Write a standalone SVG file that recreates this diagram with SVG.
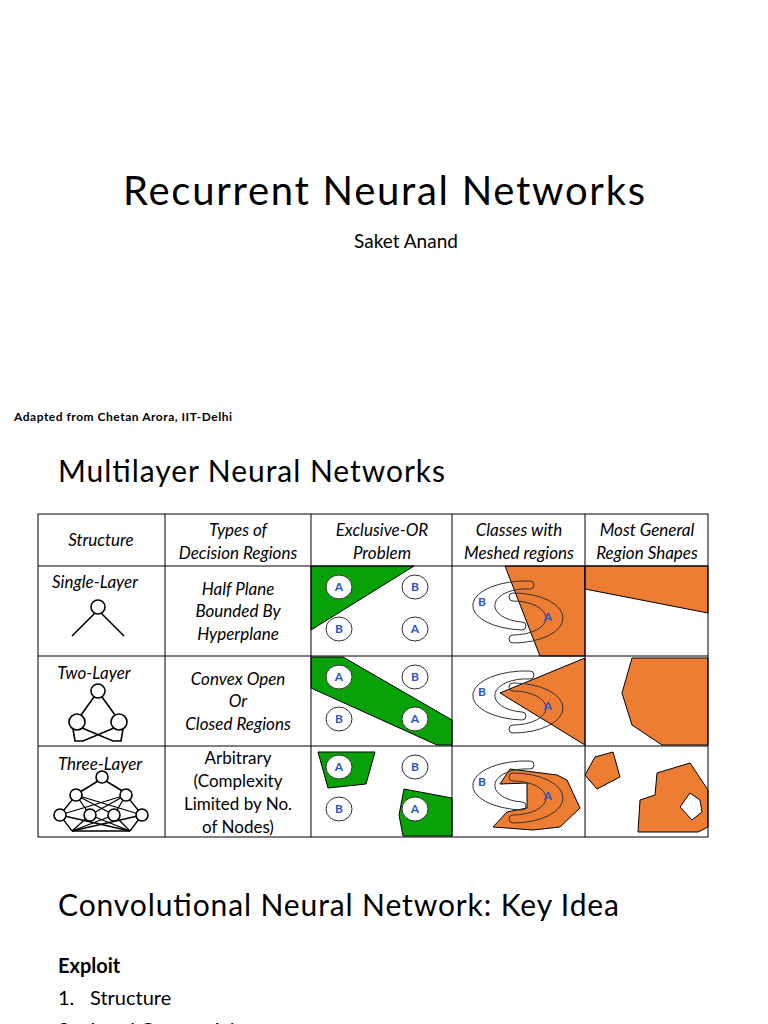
<svg xmlns="http://www.w3.org/2000/svg" width="768" height="1024" viewBox="0 0 768 1024">
<style>
text{font-family:Lato,"Open Sans","Liberation Sans",sans-serif;fill:#000}
.h{font-size:17px;font-style:italic;text-anchor:middle}
.c{font-size:17px;text-anchor:middle}
.l{font-size:12px;font-weight:bold;fill:#2a55c8;text-anchor:middle}
.g{fill:#08a108;stroke:#000;stroke-width:1}
.o{fill:#ec7d32;stroke:#000;stroke-width:1}
.ci{fill:#fff;stroke:#333;stroke-width:1}
.m{fill:none;stroke:#333;stroke-width:1}
.n{fill:none;stroke:#000;stroke-width:1.6}
.grid line{stroke:#000;stroke-width:1}
</style>
<rect width="768" height="1024" fill="#fff"/>
<text x="384" y="205" font-size="40" text-anchor="middle" textLength="522">Recurrent Neural Networks</text>
<text x="406" y="248" font-size="19" text-anchor="middle">Saket Anand</text>
<text x="14" y="421" font-size="12" font-weight="bold" textLength="218">Adapted from Chetan Arora, IIT-Delhi</text>
<text x="58" y="482" font-size="30" textLength="387">Multilayer Neural Networks</text>

<g id="cells">
<polygon class="g" points="311,566 414,566 311,630"/>
<polygon class="g" points="311,657 343,657 452,720 452,745 437,745 311,688"/>
<polygon class="g" points="318,752 375,752 366,784 328,788"/>
<polygon class="g" points="404,789 452,798 452,836 403,836 399,815"/>
<g id="xor-circles">
<ellipse class="ci" cx="339" cy="587" rx="13" ry="12"/><text class="l" x="339" y="591">A</text>
<ellipse class="ci" cx="415" cy="587" rx="13" ry="12"/><text class="l" x="415" y="591">B</text>
<ellipse class="ci" cx="339" cy="629" rx="13" ry="12"/><text class="l" x="339" y="633">B</text>
<ellipse class="ci" cx="415" cy="629" rx="13" ry="12"/><text class="l" x="415" y="633">A</text>
<ellipse class="ci" cx="339" cy="677" rx="13" ry="12"/><text class="l" x="339" y="681">A</text>
<ellipse class="ci" cx="415" cy="677" rx="13" ry="12"/><text class="l" x="415" y="681">B</text>
<ellipse class="ci" cx="339" cy="719" rx="13" ry="12"/><text class="l" x="339" y="723">B</text>
<ellipse class="ci" cx="415" cy="719" rx="13" ry="12"/><text class="l" x="415" y="723">A</text>
<ellipse class="ci" cx="339" cy="767" rx="13" ry="12"/><text class="l" x="339" y="771">A</text>
<ellipse class="ci" cx="415" cy="767" rx="13" ry="12"/><text class="l" x="415" y="771">B</text>
<ellipse class="ci" cx="339" cy="809" rx="13" ry="12"/><text class="l" x="339" y="813">B</text>
<ellipse class="ci" cx="415" cy="809" rx="13" ry="12"/><text class="l" x="415" y="813">A</text>
</g>
<polygon class="o" points="505,566 585,566 585,656 540,656"/>
<polygon class="o" points="500,693 585,658 585,745"/>
<polygon class="o" points="500,784 510,769 557,775 567,780 580,808 560,827 533,830 493,827 507,812 527,808 527,783"/>
<defs>
<path id="shB" class="m" d="M530,581 A52,24 0 1 0 522,630 A4,4 0 0 0 522,622 A30,16 0 1 1 530,589 A4,4 0 0 0 530,581 Z"/>
<path id="shA" class="m" d="M513,593 A50,25 0 1 1 513,643 A4,4 0 0 1 513,635 A33,17 0 1 0 513,601 A4,4 0 0 1 513,593 Z"/>
</defs>
<use href="#shB"/><use href="#shA"/>
<use href="#shB" y="90"/><use href="#shA" y="90"/>
<use href="#shB" y="180"/><use href="#shA" y="180"/>
<text class="l" x="482" y="606">B</text><text class="l" x="548" y="621">A</text>
<text class="l" x="482" y="696">B</text><text class="l" x="548" y="710">A</text>
<text class="l" x="482" y="786">B</text><text class="l" x="548" y="800">A</text>
<polygon class="o" points="585,566 708,566 708,613 585,589"/>
<polygon class="o" points="632,658 708,658 708,745 662,745 632,725 622,693"/>
<polygon class="o" points="585,775 595,757 613,752 620,777 597,789"/>
<polygon class="o" points="657,773 690,763 708,790 708,827 698,832 663,832 638,832 640,800 655,795"/>
<polygon fill="#fff" stroke="#000" points="680,807 690,793 700,800 702,812 692,820"/>
</g>

<g id="nets" class="n">
<circle cx="98" cy="607" r="7" fill="#fff"/>
<polyline points="72,636 95,613"/><polyline points="124,636 101,613"/>
<circle cx="98" cy="691" r="7" fill="#fff"/>
<line x1="94" y1="697" x2="81" y2="715"/><line x1="102" y1="697" x2="115" y2="715"/>
<circle cx="77" cy="722" r="8" fill="#fff"/><circle cx="119" cy="722" r="8" fill="#fff"/>
<polyline points="73,729 75,741 83,741 114,728"/><polyline points="123,729 121,741 113,741 82,728"/>
<circle cx="102" cy="777" r="6" fill="#fff"/>
<line x1="98" y1="781" x2="80" y2="792"/><line x1="106" y1="781" x2="124" y2="792"/>
<g stroke-width="1.3">
<line x1="76" y1="795" x2="60" y2="815"/><line x1="76" y1="795" x2="90" y2="815"/><line x1="76" y1="795" x2="114" y2="815"/><line x1="76" y1="795" x2="142" y2="815"/>
<line x1="126" y1="795" x2="60" y2="815"/><line x1="126" y1="795" x2="90" y2="815"/><line x1="126" y1="795" x2="114" y2="815"/><line x1="126" y1="795" x2="142" y2="815"/>
<line x1="60" y1="815" x2="72" y2="831"/><line x1="90" y1="815" x2="72" y2="831"/><line x1="114" y1="815" x2="72" y2="831"/><line x1="142" y1="815" x2="72" y2="831"/>
<line x1="60" y1="815" x2="130" y2="831"/><line x1="90" y1="815" x2="130" y2="831"/><line x1="114" y1="815" x2="130" y2="831"/><line x1="142" y1="815" x2="130" y2="831"/>
<line x1="72" y1="831" x2="130" y2="831"/>
</g>
<circle cx="76" cy="795" r="6" fill="#fff"/><circle cx="126" cy="795" r="6" fill="#fff"/>
<circle cx="60" cy="815" r="6" fill="#fff"/><circle cx="90" cy="815" r="6" fill="#fff"/><circle cx="114" cy="815" r="6" fill="#fff"/><circle cx="142" cy="815" r="6" fill="#fff"/>
</g>

<g class="grid">
<rect x="38" y="514" width="670" height="323" fill="none" stroke="#000"/>
<line x1="165" y1="514" x2="165" y2="837"/><line x1="311" y1="514" x2="311" y2="837"/>
<line x1="452" y1="514" x2="452" y2="837"/><line x1="585" y1="514" x2="585" y2="837"/>
<line x1="38" y1="566" x2="708" y2="566"/><line x1="38" y1="656" x2="708" y2="656"/><line x1="38" y1="746" x2="708" y2="746"/>
</g>

<g id="texts">
<text class="h" x="101" y="546">Structure</text>
<text class="h" x="238" y="536">Types of</text><text class="h" x="238" y="559">Decision Regions</text>
<text class="h" x="382" y="536">Exclusive-OR</text><text class="h" x="382" y="559">Problem</text>
<text class="h" x="519" y="536">Classes with</text><text class="h" x="519" y="559">Meshed regions</text>
<text class="h" x="647" y="536">Most General</text><text class="h" x="647" y="559">Region Shapes</text>
<text class="h" x="95" y="588">Single-Layer</text>
<text class="h" x="94" y="679">Two-Layer</text>
<text class="h" x="100" y="770">Three-Layer</text>
<text class="h" x="238" y="595">Half Plane</text><text class="h" x="238" y="617">Bounded By</text><text class="h" x="238" y="640">Hyperplane</text>
<text class="h" x="238" y="685">Convex Open</text><text class="h" x="238" y="707">Or</text><text class="h" x="238" y="730">Closed Regions</text>
<text class="c" x="238" y="764">Arbitrary</text><text class="c" x="238" y="787">(Complexity</text><text class="c" x="238" y="810">Limited by No.</text><text class="c" x="238" y="833">of Nodes)</text>
</g>

<text x="58" y="916" font-size="30" textLength="561">Convolutional Neural Network: Key Idea</text>
<text x="58" y="973" font-size="20" font-weight="bold">Exploit</text>
<text x="58" y="1005" font-size="20">1.</text><text x="90" y="1005" font-size="20">Structure</text>
<text x="58" y="1037" font-size="20">2.</text><text x="90" y="1037" font-size="20">Local Connectivity</text>
</svg>
